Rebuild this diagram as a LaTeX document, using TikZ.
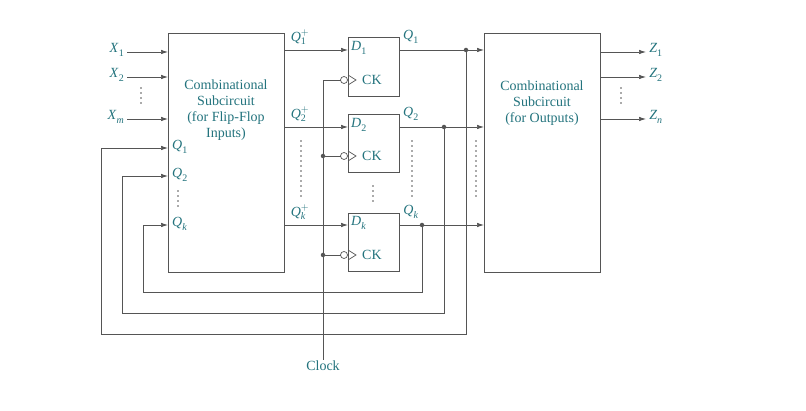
\documentclass[tikz,border=0pt]{standalone}
\usepackage{fontspec}
\setmainfont{Liberation Serif}
\usetikzlibrary{arrows.meta}
\definecolor{txt}{RGB}{35,115,125}
\definecolor{ln}{RGB}{85,85,85}
\newcommand\vv[3]{\textit{#1}$^{#2}_{\mbox{\fontsize{10}{10}\selectfont #3}}$}
\begin{document}
\begin{tikzpicture}[x=1pt,y=-1pt,
  lbl/.style={text=txt,font=\fontsize{14}{15}\selectfont,inner sep=1pt},
  wire/.style={draw=ln,line width=0.7pt},
  arr/.style={wire,-{Latex[length=7pt,width=4.5pt]}},
  box/.style={draw=ln,line width=0.9pt},
  dot/.style={circle,fill=ln,inner sep=0pt,minimum size=4.5pt},
  vdots/.style={ln,line width=1.8pt,line cap=round,dash pattern=on 0pt off 5pt}]
\useasboundingbox (0,0) rectangle (806,411);
% boxes
\draw[box] (168,33) rectangle (284,272);
\draw[box] (484,33) rectangle (600,272);
\node[lbl,align=center,font=\fontsize{14}{16}\selectfont] (lt) at (226,110) {Combinational\\Subcircuit\\(for Flip-Flop\\Inputs)};
\node[lbl,align=center,font=\fontsize{14}{16}\selectfont] (rt) at (542,103) {Combinational\\Subcircuit\\(for Outputs)};
\draw[box] (348,37) rectangle (399,96);
\draw[box] (348,114) rectangle (399,172);
\draw[box] (348,213) rectangle (399,271);
% X inputs
\node[lbl] (x1) at (117,50) {\vv{X}{}{1}};
\node[lbl] (x2) at (117,75) {\vv{X}{}{2}};
\node[lbl] (xm) at (116,117) {\vv{X}{}{\textit{m}}};
\coordinate (x1e) at (168,52); \coordinate (x2e) at (168,77); \coordinate (xme) at (168,119);
\draw[arr] (127,52) -- (x1e);
\draw[arr] (127,77) -- (x2e);
\draw[arr] (127,119) -- (xme);
\draw[vdots] (141,88) -- (141,106);
% Q inputs
\node[lbl,anchor=west] (q1i) at (171,147) {\vv{Q}{}{1}};
\node[lbl,anchor=west] (q2i) at (171,175) {\vv{Q}{}{2}};
\node[lbl,anchor=west] (qki) at (171,224) {\vv{Q}{}{\textit{k}}};
\draw[vdots] (178,191) -- (178,209);
% FF labels
\node[lbl,anchor=west] (d1) at (350,48) {\vv{D}{}{1}};
\node[lbl,anchor=west] (d2) at (350,125) {\vv{D}{}{2}};
\node[lbl,anchor=west] (dk) at (350,223) {\vv{D}{}{\textit{k}}};
\node[lbl,anchor=west] (ck1) at (361,80) {CK};
\node[lbl,anchor=west] (ck2) at (361,156) {CK};
\node[lbl,anchor=west] (ckk) at (361,255) {CK};
\foreach \y in {80,156,255}{
  \draw[wire] (344,\y) circle (3.5);
  \draw[wire] (348,\y-5) -- (356,\y) -- (348,\y+5);
}
% D lines
\coordinate (o1) at (284,50); \coordinate (o2) at (284,127); \coordinate (ok) at (284,225);
\coordinate (d1e) at (348,50); \coordinate (d2e) at (348,127); \coordinate (dke) at (348,225);
\draw[arr] (o1) -- (d1e);
\draw[arr] (o2) -- (d2e);
\draw[arr] (ok) -- (dke);
\node[lbl] (qp1) at (300,37) {\vv{Q}{+}{1}};
\node[lbl] (qp2) at (300,114) {\vv{Q}{+}{2}};
\node[lbl] (qpk) at (300,212) {\vv{Q}{+}{\textit{k}}};
\draw[vdots] (301,141) -- (301,197);
\draw[vdots] (373,186) -- (373,202);
\draw[vdots] (412,141) -- (412,197);
\draw[vdots] (476,141) -- (476,200);
% Q outputs
\node[lbl] (q1o) at (411,37) {\vv{Q}{}{1}};
\node[lbl] (q2o) at (411,114) {\vv{Q}{}{2}};
\node[lbl] (qko) at (411,212) {\vv{Q}{}{\textit{k}}};
\coordinate (r1) at (484,50); \coordinate (r2) at (484,127); \coordinate (rk) at (484,225);
\draw[arr] (399,50) -- (r1);
\draw[arr] (399,127) -- (r2);
\draw[arr] (399,225) -- (rk);
\node[dot] (j1) at (466,50) {};
\node[dot] (j2) at (444,127) {};
\node[dot] (jk) at (422,225) {};
% feedback
\coordinate (q1e) at (168,148); \coordinate (q2e) at (168,176); \coordinate (qke) at (168,225);
\draw[arr] (j1.center) -- (466,334) -- (101,334) -- (101,148) -- (q1e);
\draw[arr] (j2.center) -- (444,313) -- (122,313) -- (122,176) -- (q2e);
\draw[arr] (jk.center) -- (422,292) -- (143,292) -- (143,225) -- (qke);
% clock
\node[lbl] (clk) at (323,366) {Clock};
\node[dot] (c2) at (323,156) {};
\node[dot] (ck) at (323,255) {};
\draw[wire] (clk.north) -- (323,80) -- (340.5,80);
\draw[wire] (c2.center) -- (340.5,156);
\draw[wire] (ck.center) -- (340.5,255);
% Z outputs
\node[lbl] (z1) at (656,50) {\vv{Z}{}{1}};
\node[lbl] (z2) at (656,75) {\vv{Z}{}{2}};
\node[lbl] (zn) at (656,117) {\vv{Z}{}{\textit{n}}};
\draw[arr] (600,52) -- (646,52);
\draw[arr] (600,77) -- (646,77);
\draw[arr] (600,119) -- (646,119);
\draw[vdots] (621,88) -- (621,106);
\end{tikzpicture}
\end{document}
